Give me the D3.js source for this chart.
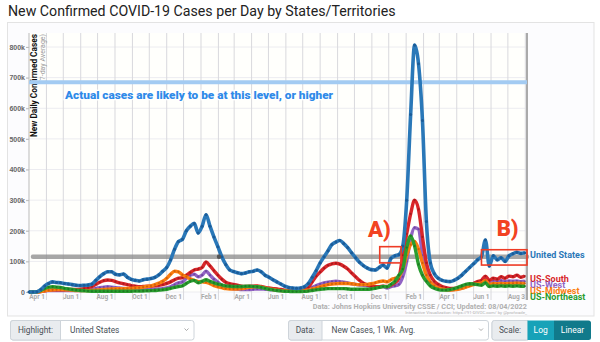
<!DOCTYPE html>
<html><head><meta charset="utf-8">
<script src="https://cdn.jsdelivr.net/npm/d3@7"></script>
<style>
html,body{margin:0;padding:0;background:#fff;}
svg{display:block;font-family:Roboto,"Open Sans",sans-serif;}
</style></head>
<body><svg id="c" width="600" height="342"></svg>
<script>
// ---- data (7-day avg new cases, thousands), weekly from 2020-03-01 ----
const startDate = "2020-03-01";
const endDate = "2022-08-04";
const seriesNames = ["United States","US-South","US-West","US-Midwest","US-Northeast"];
const usValues = [0,0.1,1,8,20,28,33,31,30,28,26,24,22,21,22,23,26,38,50,60,66,66,58,56,59,48,41,38,36,40,42,44,48,56,68,80,105,140,165,172,200,215,224,193,215,252,215,180,148,115,90,72,67,63,60,62,66,68,72,66,55,48,40,33,26,19,15,13,12,13,17,28,48,70,95,115,135,155,163,168,158,145,128,112,97,86,78,73,72,80,88,78,110,118,122,150,300,580,806,745,560,230,95,60,45,38,35,34,38,45,55,68,80,92,105,115,170,85,118,105,112,100,118,125,130,126,128];
const southValues = [0,0,0.3,1.5,4,6,7,7,7,7.5,8,8,8,9,11,14,18,25,32,37,39,38,34,30,27,24,21,19,17,18,19,19,20,22,24,28,33,40,45,47,55,64,72,75,80,98,85,70,55,42,32,27,25,22,19,18,19,19,20,18,15,13,11,10,8,6,5,5,5,6,8,15,33,52,65,78,87,92,94,91,84,75,62,50,38,29,23,19,17,17,19,18,23,30,45,120,190,255,300,270,180,95,55,35,25,18,14,12,12,13,15,18,22,28,34,38,52,38,45,42,50,45,52,50,55,48,52];
const westValues = [0,0.1,0.5,2,4,5,5,5,5,5,5,5,5,5,6,7,9,12,14,16,17,16,14,13,12,10,9,8,8,8,8,8,9,10,11,13,17,24,30,33,45,55,58,50,55,68,55,42,32,22,15,12,10,9,8,8,8,9,10,10,9,8,7,6,5,4,4,4,4,5,7,10,15,21,26,30,32,34,35,34,32,30,27,25,23,22,20,18,16,17,18,13,18,20,25,50,100,175,210,205,120,60,32,22,15,10,8,7,8,10,13,17,22,27,31,34,45,30,38,35,37,34,36,35,36,34,35];
const midwestValues = [0,0,0.2,1.5,4,6,7,8,8,7.5,7,6,5,5,4.5,4.5,5,6,7,8,9,10,10.5,11,11,11.5,12,13,14,16,18,20,24,29,35,45,58,68,66,56,50,43,38,34,33,32,27,21,17,14,11,10,10,10,11,13,15,17,18,16,13,10,8,6,4.5,3.5,3,2.5,2.5,3,4,6,10,13,17,21,24,26,27,28,28,28,27,25,24,24,25,27,30,34,36,33,40,45,50,75,120,155,165,140,95,55,32,20,13,9,7,6,7,9,12,16,20,24,27,29,38,24,28,27,28,27,28,28,29,28,28];
const northeastValues = [0,0.1,1,5,12,16,17,16,15,12,10,8,6,5,4,3,2.5,2.5,2.5,2.5,2.5,2.5,2.5,2.5,2.5,2.5,2.5,3,3,3.5,4,4.5,5,6,7,9,12,15,18,20,28,35,38,30,35,40,35,30,26,23,20,19,18,18,18,19,19,18,17,15,12,9,7,5,3.5,2.5,2,1.5,1.5,1.5,2,3,5,7,9,10,11,11,11,11,11,10,9,9,9,9,9,10,12,15,18,17,25,35,55,75,145,183,150,90,55,35,20,12,8,6,6,8,11,15,20,25,27,26,24,22,30,18,20,19,20,19,20,19,20,19,19];
const yTickValues = [0,100,200,300,400,500,600,700,800];
const xTickDates = ["2020-04-01","2020-06-01","2020-08-01","2020-10-01","2020-12-01","2021-02-01","2021-04-01","2021-06-01","2021-08-01","2021-10-01","2021-12-01","2022-02-01","2022-04-01","2022-06-01","2022-08-03"];
const xTickLabels = ["Apr 1","Jun 1","Aug 1","Oct 1","Dec 1","Feb 1","Apr 1","Jun 1","Aug 1","Oct 1","Dec 1","Feb 1","Apr 1","Jun 1","Aug 3"];
const refLevel = 685;     // "actual cases" line
const hoverLevel = 115;   // highlighted gray level
const boxA = {from:"2021-11-15", to:"2021-12-23", lo:95, hi:148};
const boxB = {from:"2022-05-15", to:"2022-08-04", lo:88, hi:138};

// ---- setup ----
const parse = d3.timeParse("%Y-%m-%d");
const t0 = parse(startDate), t1 = parse(endDate);
const dates = usValues.map((_, i) => d3.timeDay.offset(t0, 7 * i));
const colors = {"United States":"#2a78b8","US-South":"#d8262a","US-West":"#9163c4","US-Midwest":"#fb7d0f","US-Northeast":"#2a9d2f"};
const dotColors = {"United States":"#1b5c98","US-South":"#a81a1c","US-West":"#6e47a0","US-Midwest":"#d0600a","US-Northeast":"#1d7a22"};
const valuesBy = {"United States":usValues,"US-South":southValues,"US-West":westValues,"US-Midwest":midwestValues,"US-Northeast":northeastValues};

const svg = d3.select("#c");
const x = d3.scaleTime().domain([t0, t1]).range([29, 527]);
const y = d3.scaleLinear().domain([0, 850]).range([292, 31.7]);

// page/card
svg.append("rect").attr("width",600).attr("height",342).attr("fill","#fff");
svg.append("text").attr("x",8).attr("y",16).attr("font-size",14.2).attr("fill","#222")
  .text("New Confirmed COVID-19 Cases per Day by States/Territories");
svg.append("rect").attr("x",7.5).attr("y",22.5).attr("width",586.5).attr("height",293.5)
  .attr("fill","#fcfcfe").attr("stroke","#e3e3e3");
svg.append("rect").attr("x",29).attr("y",33).attr("width",498).attr("height",259).attr("fill","#fffffc");

// horizontal grid
svg.append("g").selectAll("line").data(yTickValues).join("line")
  .attr("x1",26).attr("x2",527).attr("y1",d=>y(d)).attr("y2",d=>y(d))
  .attr("stroke","#ececf0").attr("stroke-width",1);
// vertical monthly grid
const months = d3.timeMonth.range(d3.timeDay.offset(t0,1), t1);
svg.append("g").selectAll("line").data(months).join("line")
  .attr("x1",d=>x(d)).attr("x2",d=>x(d)).attr("y1",33).attr("y2",300)
  .attr("stroke","#d9d9dd").attr("stroke-width",1);

// y axis
const yAxis = d3.axisLeft(y).tickValues(yTickValues).tickSize(3).tickFormat(d => d === 0 ? "0" : d + "k");
const gy = svg.append("g").attr("transform","translate(29,0)").call(yAxis);
gy.select(".domain").attr("stroke","#bbb").attr("d","M0,33V292");
gy.selectAll(".tick line").attr("stroke","#bbb");
gy.selectAll("text").attr("font-size",7).attr("font-weight","bold").attr("fill","#666").attr("x",-4);
svg.append("line").attr("x1",527).attr("x2",527).attr("y1",33).attr("y2",300).attr("stroke","#aaa").attr("stroke-width",2);

// x labels
svg.append("g").selectAll("text").data(xTickDates).join("text")
  .attr("x",d=>x(parse(d))-1.5).attr("y",299).attr("text-anchor","end")
  .attr("font-size",6.5).attr("font-weight","bold").attr("fill","#aaa")
  .text((d,i)=>xTickLabels[i]);

// y title
svg.append("text").attr("transform","translate(37,34) rotate(-90)").attr("text-anchor","end")
  .attr("font-size",8.3).attr("font-weight","bold").attr("fill","#111").text("New Daily Confirmed Cases");
svg.append("text").attr("transform","translate(44.5,34) rotate(-90)").attr("text-anchor","end")
  .attr("font-size",7).attr("fill","#999").text("(7-day Average)");

// reference level
svg.append("line").attr("x1",29).attr("x2",527).attr("y1",y(refLevel)).attr("y2",y(refLevel))
  .attr("stroke","#a3cbf2").attr("stroke-width",4);
svg.append("text").attr("x",65).attr("y",y(refLevel)+16.5).attr("font-size",11.8).attr("font-weight",900)
  .attr("fill","#2f8ae8").attr("stroke","#fff").attr("stroke-width",2.5).attr("paint-order","stroke")
  .text("Actual cases are likely to be at this level, or higher");

// hover level
svg.append("line").attr("x1",33).attr("x2",527).attr("y1",y(hoverLevel)).attr("y2",y(hoverLevel))
  .attr("stroke","#8a8a8a").attr("stroke-opacity",0.75).attr("stroke-width",4.5).attr("stroke-linecap","round");

// lines
const line = d3.line().x((d,i)=>x(dates[i])).y(d=>y(d)).curve(d3.curveMonotoneX);
const drawOrder = ["US-West","US-South","US-Midwest","US-Northeast","United States"];
drawOrder.forEach(name => {
  const vals = valuesBy[name];
  const g = svg.append("g");
  g.append("path").attr("d", line(vals)).attr("fill","none").attr("stroke",colors[name])
    .attr("stroke-width", name === "United States" ? 3.6 : 3.4).attr("stroke-linejoin","round");
  g.selectAll("circle").data(vals).join("circle")
    .attr("cx",(d,i)=>x(dates[i])).attr("cy",d=>y(d))
    .attr("r", name === "United States" ? 1.5 : 1.1).attr("fill",dotColors[name]);
});
svg.append("circle").attr("cx",x(parse("2021-02-02"))).attr("cy",y(hoverLevel)).attr("r",2.2).attr("fill","#555");

// annotation boxes
[boxA, boxB].forEach(b => {
  svg.append("rect").attr("x",x(parse(b.from))).attr("y",y(b.hi))
    .attr("width",x(parse(b.to))-x(parse(b.from))).attr("height",y(b.lo)-y(b.hi))
    .attr("fill","none").attr("stroke","#ee3b24").attr("stroke-width",1.6);
});
[["A)", "2021-10-25", 237], ["B)", "2022-06-11", 236]].forEach(([t, d, yy]) => {
  svg.append("text").attr("x",x(parse(d))).attr("y",yy).attr("font-size",22).attr("font-weight",900)
    .attr("fill","#f24322").attr("stroke","#fff").attr("stroke-width",2.5).attr("paint-order","stroke").text(t);
});

// end labels with simple collision avoidance
const labs = seriesNames.map(n => ({name:n, y:y(valuesBy[n][valuesBy[n].length-1]) + 2.5}));
labs.sort((a,b)=>a.y-b.y);
for (let i=1;i<labs.length;i++) if (labs[i].y - labs[i-1].y < 6.1) labs[i].y = labs[i-1].y + 6.1;
svg.append("g").selectAll("text").data(labs).join("text")
  .attr("x",530).attr("y",d=>d.y).attr("dy","0.35em").attr("font-size",9).attr("font-weight","bold")
  .attr("fill",d=>colors[d.name]).text(d=>d.name);

// source
svg.append("text").attr("x",527).attr("y",308.5).attr("text-anchor","end").attr("font-size",7.3)
  .attr("font-weight","bold").attr("fill","#b0b0b0").text("Data: Johns Hopkins University CSSE / CCI; Updated: 08/04/2022");
svg.append("text").attr("x",527).attr("y",314.3).attr("text-anchor","end").attr("font-size",4.3)
  .attr("fill","#b0b0b0").text("Interactive Visualization: https://91-DIVOC.com/ by @profwade_");

// controls
function group(x0, labW, selW, label, value) {
  const g = svg.append("g");
  g.append("rect").attr("x",x0+0.5).attr("y",320.5).attr("width",labW+selW).attr("height",19.5).attr("rx",2.5)
    .attr("fill","#fff").attr("stroke","#ced4da");
  g.append("path").attr("d",`M${x0+0.5+labW},320.5H${x0+3}a2.5,2.5 0 0 0 -2.5,2.5V337.5a2.5,2.5 0 0 0 2.5,2.5H${x0+0.5+labW}Z`)
    .attr("fill","#e9ecef").attr("stroke","#ced4da");
  g.append("text").attr("x",x0+labW/2+0.5).attr("y",333).attr("text-anchor","middle").attr("font-size",8.3).attr("fill","#495057").text(label);
  if (value) {
    g.append("text").attr("x",x0+labW+10).attr("y",333).attr("font-size",8.3).attr("fill","#495057").text(value);
    g.append("path").attr("d",`M${x0+labW+selW-9},328.5l2,2l2,-2`).attr("fill","none").attr("stroke","#888").attr("stroke-width",0.7);
  }
}
group(10, 50, 133.5, "Highlight:", "United States");
group(288, 33.5, 166.5, "Data:", "New Cases, 1 Wk. Avg.");
group(491.5, 36, 0, "Scale:", null);
svg.append("rect").attr("x",527.5).attr("y",320.5).attr("width",26.5).attr("height",19.5).attr("fill","#17a2b8");
svg.append("path").attr("d","M554,320.5H588.5a2.5,2.5 0 0 1 2.5,2.5V337.5a2.5,2.5 0 0 1 -2.5,2.5H554Z").attr("fill","#117a8b");
svg.append("text").attr("x",540.7).attr("y",333.2).attr("text-anchor","middle").attr("font-size",8.5).attr("fill","#fff").text("Log");
svg.append("text").attr("x",572.5).attr("y",333.2).attr("text-anchor","middle").attr("font-size",8.5).attr("fill","#fff").text("Linear");
</script></body></html>
